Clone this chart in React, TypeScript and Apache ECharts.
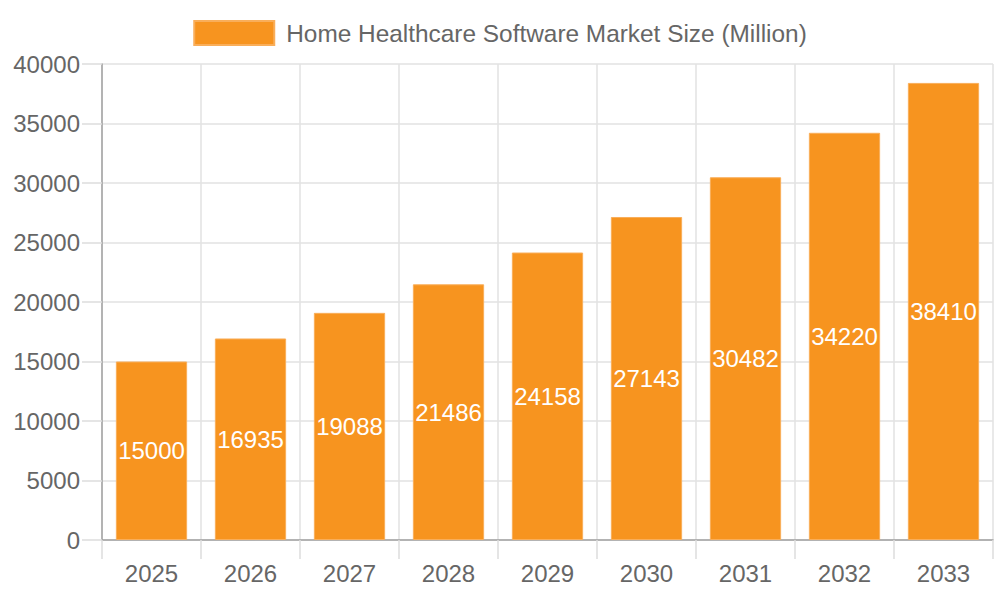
import React, { useEffect, useRef } from "react";
import * as echarts from "echarts";

const years = ["2025", "2026", "2027", "2028", "2029", "2030", "2031", "2032", "2033"];
const marketSize = [15000, 16935, 19088, 21486, 24158, 27143, 30482, 34220, 38410];
const seriesName = "Home Healthcare Software Market Size (Million)";

const FONT = "'Liberation Sans', Arial, Helvetica, sans-serif";

export default function App() {
  const ref = useRef<HTMLDivElement>(null);
  useEffect(() => {
    document.body.style.margin = "0";
    if (!ref.current) return;
    const chart = echarts.init(ref.current, null, { renderer: "svg" });
    chart.setOption({
      animation: false,
      textStyle: { fontFamily: FONT },
      legend: {
        top: 20,
        left: "center",
        padding: 0,
        itemWidth: 80,
        itemHeight: 24,
        icon: "rect",
        textStyle: { color: "#666", fontSize: 24.4, fontFamily: FONT, padding: [0, 0, 0, 7] },
        data: [seriesName],
      },
      grid: { left: 102, right: 7, top: 64, bottom: 60, containLabel: false },
      xAxis: {
        type: "category",
        data: years,
        boundaryGap: true,
        axisLine: { show: true, lineStyle: { color: "#a0a0a0", width: 1.5 } },
        axisTick: { show: true, length: 19, lineStyle: { color: "#dcdcdc", width: 1.5 } },
        axisLabel: { color: "#666", fontSize: 24, fontFamily: FONT, margin: 21 },
        splitLine: { show: true, lineStyle: { color: "#e2e2e2", width: 1.5 } },
      },
      yAxis: {
        type: "value",
        min: 0,
        max: 40000,
        interval: 5000,
        axisLine: { show: true, lineStyle: { color: "#a0a0a0", width: 1.5 } },
        axisTick: { show: true, length: 20, lineStyle: { color: "#dcdcdc", width: 1.5 } },
        axisLabel: {
          color: "#666",
          fontSize: 24,
          fontFamily: FONT,
          margin: 22,
          formatter: (v: number) => String(v),
        },
        splitLine: { show: true, lineStyle: { color: "#e2e2e2", width: 1.5 } },
      },
      series: [
        {
          name: seriesName,
          type: "bar",
          data: marketSize,
          barCategoryGap: "28%",
          itemStyle: { color: "#F7941F", borderColor: "#F9AE5A", borderWidth: 1 },
          label: {
            show: true,
            position: "inside",
            color: "#fff",
            fontSize: 24,
            fontFamily: FONT,
          },
        },
      ],
    });
    return () => chart.dispose();
  }, []);
  return <div ref={ref} style={{ width: 1000, height: 600 }} />;
}
